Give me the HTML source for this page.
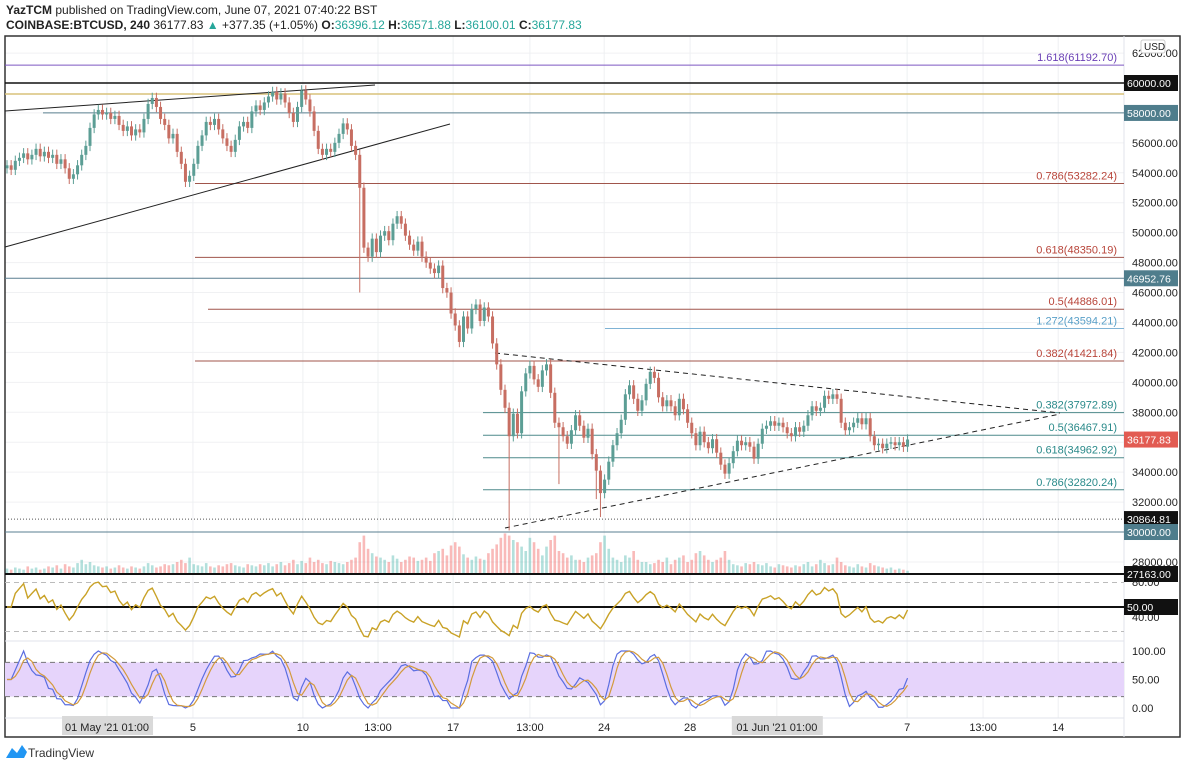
<!DOCTYPE html>
<html><head><meta charset="utf-8">
<style>
body{margin:0;background:#fff;font-family:"Liberation Sans",sans-serif;}
#wrap{position:relative;width:1186px;height:768px;overflow:hidden;}
.hdr{position:absolute;left:6px;font-size:12px;color:#222;white-space:nowrap;}
</style></head><body>
<div id="wrap">
<div class="hdr" style="top:3px"><b>YazTCM</b> published on TradingView.com, June 07, 2021 07:40:22 BST</div>
<div class="hdr" style="top:18px"><b>COINBASE:BTCUSD, 240</b> 36177.83 <span style="color:#26a69a">▲</span> +377.35 (+1.05%) <b>O:</b><span style="color:#26a69a">36396.12</span> <b>H:</b><span style="color:#26a69a">36571.88</span> <b>L:</b><span style="color:#26a69a">36100.01</span> <b>C:</b><span style="color:#26a69a">36177.83</span></div>
<svg id="chart" width="1186" height="768" style="position:absolute;left:0;top:0" font-family="Liberation Sans, sans-serif"></svg>
</div>
<script>
const closes=[54.5,54.2,54.8,55.0,55.3,54.9,55.2,55.6,55.1,55.4,
55.0,55.2,54.6,54.9,54.3,53.6,53.9,54.5,55.2,55.8,
57.0,57.9,58.2,57.9,58.0,57.6,57.8,57.2,56.8,57.1,
56.5,56.9,56.7,57.6,58.6,59.0,58.4,57.6,57.2,56.3,
56.6,55.4,54.6,53.4,53.8,54.6,55.8,56.5,57.4,57.2,
57.6,56.9,56.3,55.8,55.4,56.2,57.1,57.4,57.0,58.1,
58.5,58.2,58.7,59.1,59.4,58.9,59.3,58.7,58.0,57.4,
58.4,59.5,58.9,58.1,56.8,55.6,55.2,55.6,55.4,56.0,
56.6,57.3,56.9,55.8,55.2,53.0,49.0,48.4,49.6,48.7,
49.8,50.1,49.5,50.6,51.1,50.6,49.8,49.2,48.8,49.4,
48.4,48.0,47.6,47.3,47.8,46.3,46.0,44.6,43.8,42.7,
44.4,43.6,44.9,45.2,44.1,45.0,44.4,42.6,41.2,39.5,
38.3,36.4,37.9,36.6,39.4,40.6,41.1,40.2,39.7,40.8,
41.2,39.3,37.3,37.0,36.4,35.9,36.8,37.8,37.1,36.3,
36.9,35.2,34.1,32.6,33.5,34.7,35.8,36.6,37.5,39.2,
39.8,38.9,38.1,38.8,39.9,40.7,40.3,39.0,38.4,38.8,
38.4,37.8,38.9,38.2,37.3,36.6,35.8,36.7,36.0,35.6,
36.2,35.3,34.5,33.9,34.6,35.4,36.1,35.8,36.0,35.7,
34.9,35.9,36.9,37.1,37.4,37.1,37.3,37.0,36.6,36.4,
37.0,36.7,37.1,37.8,38.4,38.1,38.3,39.1,38.9,39.2,
38.9,37.3,36.8,37.0,37.3,37.6,37.2,37.6,36.4,35.8,
35.9,35.6,35.9,36.0,35.8,36.0,35.7,36.18];
const volumes=[4,3,5,4,3,6,4,5,3,4,6,5,7,4,8,6,5,9,12,8,
10,7,6,5,6,4,5,7,5,4,6,5,4,6,9,7,5,6,8,7,
8,10,12,9,14,8,7,6,9,6,5,7,6,8,9,7,6,5,8,7,
6,8,7,9,6,8,10,7,9,12,8,11,9,14,10,12,9,8,11,10,
9,8,10,12,14,28,34,22,18,15,14,12,10,16,13,10,12,15,14,11,
12,14,11,18,20,22,16,25,28,24,17,14,12,15,13,12,18,22,26,32,
36,34,30,28,24,20,32,28,22,16,
24,30,34,20,18,14,16,12,12,10,14,16,18,28,34,22,14,12,10,16,
14,20,12,10,10,8,9,12,10,14,8,12,14,16,10,12,18,20,16,12,
10,12,14,20,12,8,7,6,9,8,10,8,7,9,6,5,8,7,6,5,
7,6,8,10,6,8,12,9,7,8,14,10,7,6,5,8,6,5,9,7,
6,5,4,5,3,4,3,2];
const wickLows={85:46.0,121:30.1,143:31.0,133:33.2,142:32.2};
const priceTicks=[62000,60000,58000,56000,54000,52000,50000,48000,46000,44000,42000,40000,38000,36000,34000,32000,30000,28000];
const timeLabels=["01 May '21   01:00","5","10","13:00","17","13:00","24","28","01 Jun '21   01:00","7","13:00","14"];
const timeIdx=[24.1,44.8,71.3,89.4,107.5,126,143.9,164.6,185.5,216.9,235.2,253.3];
const fibLevels=[61192.70,53282.24,48350.19,44886.01,43594.21,41421.84,37972.89,36467.91,34962.92,32820.24];
const fibLabels=["1.618(61192.70)","0.786(53282.24)","0.618(48350.19)","0.5(44886.01)","1.272(43594.21)","0.382(41421.84)","0.382(37972.89)","0.5(36467.91)","0.618(34962.92)","0.786(32820.24)"];

const svg=document.getElementById('chart');const NS='http://www.w3.org/2000/svg';
function mk(t,a,p){const e=document.createElementNS(NS,t);for(const k in a)e.setAttribute(k,a[k]);(p||svg).appendChild(e);return e;}
const X0=7,DX=4.15,AX=1124;
const xi=i=>X0+DX*i;
const yp=p=>83+(60000-p)*0.014967;
const yr=v=>607-(v-50)*0.8167;
const ys=v=>708-v*0.57;

priceTicks.forEach(p=>{const l=mk('line',{x1:5,x2:AX,y1:yp(p),y2:yp(p),stroke:'#f0f1f3'});});
timeIdx.forEach(t=>{const l=mk('line',{x1:xi(t),x2:xi(t),y1:36,y2:718,stroke:'#eef0f2'});});
mk('rect',{x:5,y:36,width:1175,height:701,fill:'none',stroke:'#333','stroke-width':1.5});
mk('line',{x1:AX,x2:AX,y1:36,y2:737,stroke:'#e0e3eb'});
mk('line',{x1:5,x2:AX,y1:641,y2:641,stroke:'#e0e3eb'});
mk('line',{x1:5,x2:AX,y1:718,y2:718,stroke:'#e0e3eb'});

function hline(p,x1,col,w,dash,name){const l=mk('line',{x1:x1,x2:AX,y1:yp(p),y2:yp(p),stroke:col,'stroke-width':w||1});if(dash)l.setAttribute('stroke-dasharray',dash);}
hline(60000,5,'#111',1.5,null,'level-60000');
hline(59265,5,'#d8c27a',1.5,null,'level-gold');
hline(58000,43,'#5a7f90',1,null,'level-58000');
hline(46952.76,5,'#5a7f90',1,null,'level-46952');
hline(30864.81,5,'#555',1,'1,2','level-30864');
hline(30000,5,'#5a7f90',1,null,'level-30000');
const fibX=[5,195,195,208,605,195,483,483,483,483];
const fibCol=['#7e57c2','#a0554b','#a0554b','#a0554b','#7fb3d5','#a0554b','#4f8a8b','#4f8a8b','#4f8a8b','#4f8a8b'];
const fibTxt=['#6a3fb5','#b8453a','#b8453a','#b8453a','#5aa0c8','#b8453a','#2a8a8a','#2a8a8a','#2a8a8a','#2a8a8a'];
fibLevels.forEach((p,i)=>{hline(p,fibX[i],fibCol[i],1,null,'fib-level');
 const t=mk('text',{x:1117,y:yp(p)-4,'text-anchor':'end','font-size':11,fill:fibTxt[i]});t.textContent=fibLabels[i];
 });
mk('line',{x1:5,x2:AX,y1:574,y2:574,stroke:'#111','stroke-width':2});

[[5,111,375,85,null],[5,247,450,124,null],[495,353,1060,413,'5,4'],[505,528,1060,414,'5,4']].forEach(a=>{const l=mk('line',{x1:a[0],y1:a[1],x2:a[2],y2:a[3],stroke:'#222','stroke-width':1});if(a[4])l.setAttribute('stroke-dasharray',a[4]);});

volumes.forEach((v,i)=>{const o=i?closes[i-1]:closes[0],up=closes[i]>=o;const h=v*1.1;
 const r=mk('rect',{x:xi(i)-1.3,y:573-h,width:2.6,height:h,fill:up?'rgba(38,166,154,0.35)':'rgba(239,83,80,0.4)'});
 });
closes.forEach((c,i)=>{const o=i?closes[i-1]:c-0.2;const up=c>=o;const col=up?'#5c9e95':'#c76e62';
 const hi=Math.max(o,c)+0.35,lo=wickLows[i]!==undefined?wickLows[i]:Math.min(o,c)-0.35;
 mk('line',{x1:xi(i),x2:xi(i),y1:yp(hi*1000),y2:yp(lo*1000),stroke:col,'stroke-width':1});
 const top=yp(Math.max(o,c)*1000),bot=yp(Math.min(o,c)*1000);
 const r=mk('rect',{x:xi(i)-1.5,y:top,width:3,height:Math.max(1,bot-top),fill:col});
 });

function rsi(arr,n){const out=[];let g=0,l=0;for(let i=1;i<arr.length;i++){const d=arr[i]-arr[i-1];const gu=Math.max(d,0),lo=Math.max(-d,0);
 if(i<=n){g+=gu/n;l+=lo/n;}else{g=(g*(n-1)+gu)/n;l=(l*(n-1)+lo)/n;}out[i]=l===0?100:100-100/(1+g/l);}out[0]=out[1]=50;for(let i=2;i<=n;i++)if(out[i]===undefined)out[i]=50;return out;}
const R=rsi(closes,8);
mk('line',{x1:5,x2:AX,y1:yr(80),y2:yr(80),stroke:'#bbb','stroke-dasharray':'5,4'});
mk('line',{x1:5,x2:AX,y1:yr(20),y2:yr(20),stroke:'#bbb','stroke-dasharray':'5,4'});
mk('line',{x1:5,x2:AX,y1:yr(50),y2:yr(50),stroke:'#111','stroke-width':2});
const rp=mk('polyline',{points:R.map((v,i)=>xi(i)+','+yr(v)).join(' '),fill:'none',stroke:'#c9a227','stroke-width':1.4});

const K=[],D=[],S=[];
R.forEach((v,i)=>{const w=R.slice(Math.max(0,i-13),i+1);const mn=Math.min(...w),mx=Math.max(...w);S[i]=mx-mn<1e-9?50:(v-mn)/(mx-mn)*100;});
S.forEach((v,i)=>{const w=S.slice(Math.max(0,i-2),i+1);K[i]=w.reduce((a,b)=>a+b,0)/w.length;});
K.forEach((v,i)=>{const w=K.slice(Math.max(0,i-2),i+1);D[i]=w.reduce((a,b)=>a+b,0)/w.length;});
mk('rect',{x:5,y:ys(80),width:AX-5,height:ys(20)-ys(80),fill:'#e6d4fb'});
mk('line',{x1:5,x2:AX,y1:ys(80),y2:ys(80),stroke:'#777','stroke-dasharray':'5,4'});
mk('line',{x1:5,x2:AX,y1:ys(20),y2:ys(20),stroke:'#777','stroke-dasharray':'5,4'});
[[K,'#5b6ee1','stoch-k-line'],[D,'#d39a3c','stoch-d-line']].forEach(a=>{const p=mk('polyline',{points:a[0].map((v,i)=>xi(i)+','+ys(v)).join(' '),fill:'none',stroke:a[1],'stroke-width':1.2});
 });

priceTicks.forEach(p=>{const t=mk('text',{x:1132,y:yp(p)+4,'font-size':11,fill:'#222'});t.textContent=p.toFixed(2);
 });
function box(p,y,bg,fg,name){mk('rect',{x:1124,y:y-8,width:54,height:16,fill:bg});
 const t=mk('text',{x:1127,y:y+4,'font-size':10.5,fill:fg});t.textContent=p;}
box('60000.00',yp(60000),'#111','#fff','axis-label-60000');
box('58000.00',yp(58000),'#4f7d8c','#fff','axis-label-58000');
box('46952.76',yp(46952.76),'#4f7d8c','#fff','axis-label-46952');
box('36177.83',yp(36177.83),'#e25b52','#fff','axis-label-last-price');
box('30864.81',yp(30864.81),'#111','#fff','axis-label-30864');
box('30000.00',yp(30000),'#4f7d8c','#fff','axis-label-30000');
box('27163.00',574,'#111','#fff','axis-label-27163');
mk('rect',{x:1141,y:40,width:24,height:13,fill:'#fff',stroke:'#ccc',rx:2});
const usd=mk('text',{x:1144,y:50,'font-size':10,fill:'#222'});usd.textContent='USD';
[[80,'80.00',582],[40,'40.00',617]].forEach(a=>{const t=mk('text',{x:1132,y:a[2]+4,'font-size':11,fill:'#222'});t.textContent=a[1];});
box('50.00',yr(50),'#111','#fff','rsi-50-label');
[[100,'100.00'],[50,'50.00'],[0,'0.00']].forEach(a=>{const t=mk('text',{x:1132,y:ys(a[0])+4,'font-size':11,fill:'#222'});t.textContent=a[1];});

timeLabels.forEach((s,i)=>{const x=xi(timeIdx[i]);const hl=s.length>5;
 if(hl)mk('rect',{x:x-45,y:716,width:91,height:19,fill:'#d9d9d9'});
 const t=mk('text',{x:x,y:731,'text-anchor':'middle','font-size':11,fill:'#222','xml:space':'preserve'});t.textContent=s;
 });

mk('path',{d:'M6 758 L12 748 L17 753 L22 745 L27 752 L24 758 Z',fill:'#2196f3'});
const ft=mk('text',{x:28,y:757,'font-size':12,fill:'#333'});ft.textContent='TradingView';
</script>
</body></html>
